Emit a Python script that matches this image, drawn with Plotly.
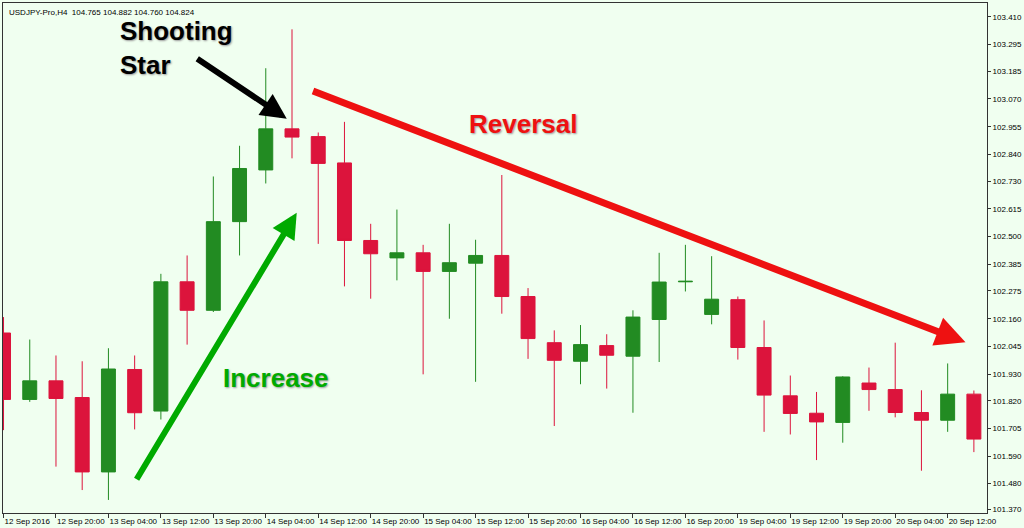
import plotly.graph_objects as go

# USDJPY H4 bars, 12 Sep 12:00 -> 20 Sep 16:00 (weekend skipped)
times = ["12 Sep 12:00", "12 Sep 16:00", "12 Sep 20:00",
         "13 Sep 00:00", "13 Sep 04:00", "13 Sep 08:00", "13 Sep 12:00", "13 Sep 16:00", "13 Sep 20:00",
         "14 Sep 00:00", "14 Sep 04:00", "14 Sep 08:00", "14 Sep 12:00", "14 Sep 16:00", "14 Sep 20:00",
         "15 Sep 00:00", "15 Sep 04:00", "15 Sep 08:00", "15 Sep 12:00", "15 Sep 16:00", "15 Sep 20:00",
         "16 Sep 00:00", "16 Sep 04:00", "16 Sep 08:00", "16 Sep 12:00", "16 Sep 16:00", "16 Sep 20:00",
         "19 Sep 00:00", "19 Sep 04:00", "19 Sep 08:00", "19 Sep 12:00", "19 Sep 16:00", "19 Sep 20:00",
         "20 Sep 00:00", "20 Sep 04:00", "20 Sep 08:00", "20 Sep 12:00", "20 Sep 16:00"]

opens = [102.101, 101.826, 101.903, 101.834, 101.526, 101.950, 101.778, 102.313, 102.195, 102.562,
         102.776, 102.946, 102.914, 102.805, 102.484, 102.412, 102.433, 102.356, 102.390, 102.422,
         102.252, 102.061, 101.984, 102.049, 102.005, 102.157, 102.313, 102.178, 102.239, 102.041,
         101.841, 101.769, 101.731, 101.894, 101.867, 101.772, 101.740, 101.848]
highs = [102.167, 102.074, 102.008, 101.984, 102.038, 102.008, 102.346, 102.422, 102.749, 102.876,
         103.197, 103.358, 102.931, 102.975, 102.553, 102.612, 102.466, 102.553, 102.487, 102.755,
         102.287, 102.112, 102.134, 102.096, 102.195, 102.433, 102.466, 102.419, 102.252, 102.153,
         101.925, 101.857, 101.922, 101.958, 102.061, 101.864, 101.975, 101.863]
lows = [101.699, 101.816, 101.548, 101.451, 101.410, 101.702, 101.743, 102.053, 102.188, 102.422,
        102.720, 102.824, 102.470, 102.294, 102.243, 102.319, 101.930, 102.160, 101.899, 102.181,
        101.994, 101.716, 101.889, 101.871, 101.771, 101.981, 102.273, 102.137, 101.991, 101.692,
        101.681, 101.575, 101.647, 101.779, 101.752, 101.531, 101.692, 101.608]
closes = [101.826, 101.903, 101.830, 101.526, 101.952, 101.771, 102.313, 102.195, 102.562, 102.782,
          102.946, 102.912, 102.803, 102.484, 102.429, 102.433, 102.356, 102.392, 102.422, 102.252,
          102.078, 101.988, 102.053, 102.009, 102.167, 102.312, 102.315, 102.241, 102.041, 101.844,
          101.768, 101.733, 101.919, 101.867, 101.772, 101.740, 101.848, 101.662]

price_ticks = [103.410, 103.295, 103.185, 103.070, 102.955, 102.840, 102.730, 102.615, 102.500, 102.385,
               102.275, 102.160, 102.045, 101.930, 101.820, 101.705, 101.590, 101.480, 101.370]

time_ticks = times[::2]
time_labels = ["12 Sep 2016"] + times[2::2]

bg = "#F0FFF0"
green = "#228B22"
red = "#DC143C"

fig = go.Figure()

fig.add_trace(go.Candlestick(
    x=times, open=opens, high=highs, low=lows, close=closes,
    increasing=dict(fillcolor=green, line=dict(color=green, width=1)),
    decreasing=dict(fillcolor=red, line=dict(color=red, width=1)),
    whiskerwidth=0, showlegend=False, name="USDJPY"))

big = dict(family="Liberation Sans, Arial, sans-serif", size=26, weight="bold")

# header
fig.add_annotation(text="USDJPY-Pro,H4  104.765 104.882 104.760 104.824",
                   xref="paper", yref="paper", x=0.004, y=0.995, xanchor="left", yanchor="top",
                   showarrow=False, font=dict(family="Liberation Sans, Arial", size=8, color="#000"))

# text labels
fig.add_annotation(text="Shooting<br>Star", x=4.35, y=103.279, xanchor="left", yanchor="middle",
                   align="left", showarrow=False,
                   font=dict(big, color="#000000", shadow="1px 1px 2px #999"))
fig.add_annotation(text="Reversal", x=19.79, y=102.967, showarrow=False,
                   font=dict(big, color="#EE1111", shadow="1px 1px 2px #999"))
fig.add_annotation(text="Increase", x=10.38, y=101.914, showarrow=False,
                   font=dict(big, color="#00AA00", shadow="1px 1px 2px #999"))

# arrows
fig.add_annotation(text="", x=10.8, y=102.988, ax=-91, ay=-61, showarrow=True,
                   arrowhead=2, arrowsize=0.85, arrowwidth=6, arrowcolor="#000000", standoff=0)
fig.add_annotation(text="", x=11.18, y=102.599, ax=-161, ay=268, showarrow=True,
                   arrowhead=2, arrowsize=0.85, arrowwidth=6, arrowcolor="#00AA00", standoff=0)
fig.add_annotation(text="", x=36.68, y=102.0625, ax=-654, ay=-252, showarrow=True,
                   arrowhead=2, arrowsize=0.85, arrowwidth=7, arrowcolor="#EE1111", standoff=0)

fig.update_layout(
    width=1024, height=528,
    margin=dict(l=3, r=32, t=2, b=15),
    paper_bgcolor=bg, plot_bgcolor=bg,
    boxgap=0.24,
    font=dict(family="Liberation Sans, Arial, sans-serif", size=8, color="#000"),
)

fig.update_xaxes(
    type="category", range=[-0.02, 37.5], rangeslider_visible=False,
    tickmode="array", tickvals=time_ticks, ticktext=time_labels, tickangle=0,
    ticks="outside", ticklen=4, tickcolor="#333", ticklabelposition="outside right",
    showgrid=False, zeroline=False,
    showline=True, linecolor="#333", linewidth=1, mirror=True,
)

fig.update_yaxes(
    side="right", range=[101.356, 103.467],
    tickmode="array", tickvals=price_ticks, ticktext=[f"{v:.3f}" for v in price_ticks],
    ticks="outside", ticklen=3, tickcolor="#333",
    showgrid=False, zeroline=False,
    showline=True, linecolor="#333", linewidth=1, mirror=True,
)

# page margin off so the 1024x528 figure fills the window
fig.write_html("out.html", config={"displayModeBar": False},
               post_script="document.body.style.margin='0';document.body.style.overflow='hidden';")
